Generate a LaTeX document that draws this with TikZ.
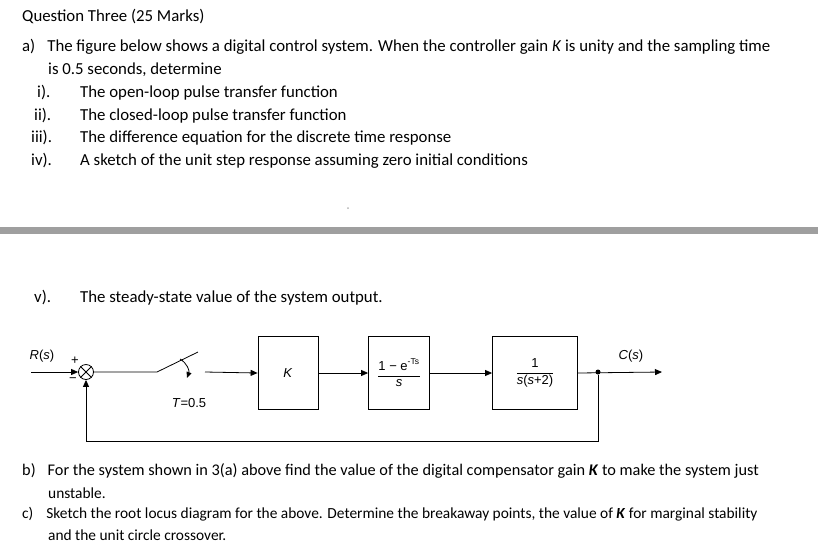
\documentclass[tikz,border=0pt]{standalone}
\usepackage{fontspec}
\setmainfont{Carlito}
\newfontfamily\arialf{Liberation Sans}
\usetikzlibrary{arrows.meta}
\newcommand{\af}[1]{\hbox{\arialf\fontsize{13}{15}\selectfont #1}}
\newcommand{\sm}[1]{\hbox{\arialf\fontsize{8.5}{10}\selectfont #1}}
\begin{document}
\begin{tikzpicture}[x=1pt,y=-1pt,
  txt/.style={anchor=west,inner sep=0pt,font=\fontsize{16.8}{19}\selectfont},
  dtxt/.style={inner sep=0pt,font=\arialf\fontsize{13}{15}\selectfont},
  blk/.style={draw,line width=0.8pt,minimum height=73pt,inner sep=0pt,font=\arialf\fontsize{13}{15}\selectfont},
  sig/.style={line width=0.8pt,-{Triangle[length=7pt,width=6pt]}},
  ln/.style={line width=0.8pt}]
\useasboundingbox (0,0) rectangle (818,555);
\node[txt] (q) at (22,17) {Question Three (25 Marks)};
\node[txt] (a1) at (22,47) {a)\hspace{12pt}The figure below shows a digital control system. When the controller gain \textit{K} is unity and the sampling time};
\node[txt] (a2) at (48,70) {is 0.5 seconds, determine};
\node[txt] (l1) at (37,93) {i).}; \node[txt] (t1) at (80,93) {The open-loop pulse transfer function};
\node[txt] (l2) at (34,116) {ii).}; \node[txt] (t2) at (80,116) {The closed-loop pulse transfer function};
\node[txt] (l3) at (31,138) {iii).}; \node[txt] (t3) at (80,138) {The difference equation for the discrete time response};
\node[txt] (l4) at (31,161) {iv).}; \node[txt] (t4) at (80,161) {A sketch of the unit step response assuming zero initial conditions};
\fill[gray!60] (348,208) circle (1pt);
\fill[gray!75] (0,227) rectangle (818,234);
\node[txt] (l5) at (34,298) {v).}; \node[txt] (t5) at (80,298) {The steady-state value of the system output.};
\node[txt,font=\fontsize{16.3}{19}\selectfont] (b1) at (22,471) {b)\hspace{12pt}For the system shown in 3(a) above find the value of the digital compensator gain \textbf{\textit{K}} to make the system just};
\node[txt,font=\fontsize{15.4}{19}\selectfont] (b2) at (48,493) {unstable.};
\node[txt,font=\fontsize{15.4}{19}\selectfont] (c1) at (22,514) {c)\hspace{13pt}Sketch the root locus diagram for the above. Determine the breakaway points, the value of \textbf{\textit{K}} for marginal stability};
\node[txt,font=\fontsize{15.4}{19}\selectfont] (c2) at (48,535) {and the unit circle crossover.};
% diagram
\coordinate (in) at (31,372);
\node[draw,circle,line width=0.8pt,minimum size=15pt,inner sep=0pt] (sum) at (86,372) {};
\draw[ln] (sum.north west)--(sum.south east) (sum.north east)--(sum.south west);
\node[dtxt] (R) at (42,356) {\textit{R}(\textit{s})};
\node[dtxt] (plus) at (75,361) {+};
\node[dtxt] (minus) at (73,380) {\textminus};
\coordinate (s1) at (157,372);
\coordinate (s2) at (198,352);
\coordinate (s3) at (205,372);
\draw[ln] (sum.east)--(s1)--(s2);
\draw[ln,-{Triangle[length=6pt,width=5pt]}] (180,359) to[bend left=40] (187,378);
\node[dtxt] (T) at (189,403) {\textit{T}=0.5};
\node[blk,minimum width=60pt] (K) at (288,373) {\textit{K}};
\node[blk,minimum width=61pt] (zoh) at (399,373) {$\displaystyle\frac{\af{1 \textminus\ e}^{\sm{-Ts}}}{\af{\textit{s}}}$};
\node[blk,minimum width=85pt] (G) at (535,373) {$\displaystyle\frac{\af{1}}{\af{\textit{s}(\textit{s}+2)}}$};
\draw[sig] (in)--(sum.west);
\draw[sig] (s3)--(K.west);
\draw[sig] (K.east)--(zoh.west);
\draw[sig] (zoh.east)--(G.west);
\coordinate (out) at (662,372);
\node[circle,fill,inner sep=0pt,minimum size=5pt] (dot) at (598,372) {};
\draw[sig] (G.east)--(out);
\node[dtxt] (C) at (631,356) {\textit{C}(\textit{s})};
\coordinate (fb) at (598,441);
\coordinate (fb2) at (86,441);
\draw[sig] (dot)--(fb)--(fb2)--(sum.south);
\end{tikzpicture}
\end{document}
